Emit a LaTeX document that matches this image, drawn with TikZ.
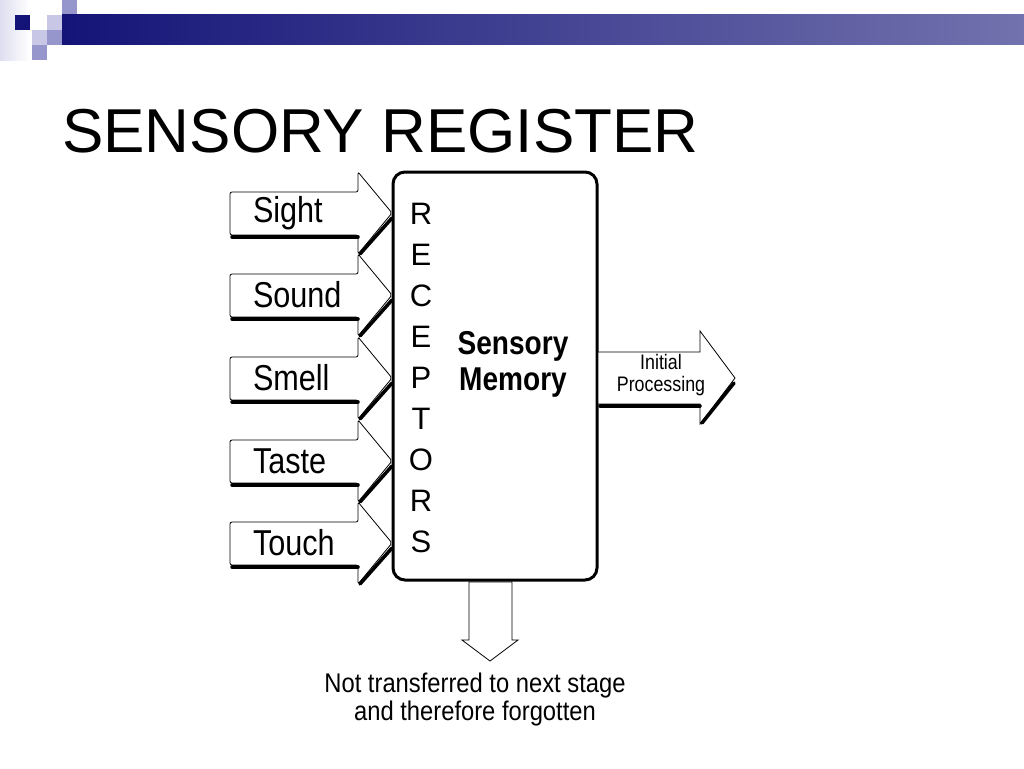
\documentclass[tikz,border=0pt]{standalone}
\usepackage{fontspec}
\setmainfont{Liberation Sans}
\definecolor{navy}{RGB}{20,20,120}
\definecolor{lav}{RGB}{200,200,230}
\definecolor{midlav}{RGB}{150,150,205}
\tikzset{
  inarrow/.style={draw=black, fill=white, line width=0.8pt},
  shadowline/.style={line width=3.5pt, line cap=round},
  sense/.style={font=\fontsize{36}{40}\selectfont, xscale=0.85},
}
\begin{document}
\begin{tikzpicture}[x=1pt,y=-1pt]
  \useasboundingbox (0,0) rectangle (1024,768);
  % header decoration
  \shade[left color=lav!60, right color=white] (0,0) rectangle (30,60);
  \fill[navy] (15,15) rectangle (30,30);
  \fill[lav] (47,15) rectangle (62,30);
  \fill[midlav] (62,0) rectangle (77,15);
  \fill[midlav] (62,15) rectangle (77,30);
  \fill[lav] (32,30) rectangle (47,45);
  \fill[midlav] (47,30) rectangle (62,45);
  \fill[midlav] (32,45) rectangle (47,60);
  \shade[left color=navy, right color=navy!60!white] (62,15) rectangle (1024,45);
  \node[anchor=base west, font=\fontsize{62}{70}\selectfont, inner sep=0] (title) at (62,152) {SENSORY REGISTER};

  % main box
  \draw[line width=3pt, rounded corners=12pt] (393,172) rectangle (597,580);
  \node[font=\fontsize{31}{41}\selectfont, align=center, inner sep=0] (rec) at (421,378)
    {R\\E\\C\\E\\P\\T\\O\\R\\S};
  \node[font=\bfseries\fontsize{33}{36}\selectfont, xscale=0.85, align=center] (mem) at (513,364) {Sensory\\Memory};

  % input arrows
  \foreach \lab/\y/\n in {Sight/213/a, Sound/295/b, Smell/378/c, Taste/461/d, Touch/543/e}{
    \draw[inarrow, rounded corners=2pt] (230,\y-21) -- (358,\y-21) -- (358,\y-41) -- (392,\y)
      -- (358,\y+41) -- (358,\y+22) -- (230,\y+22) -- cycle;
    \draw[shadowline] (232,\y+24) -- (358,\y+24);
    \draw[shadowline] (360,\y+41) -- (392,\y+5);
    \node[sense, anchor=west] (\n) at (250,\y) {\lab};
  }

  % output arrow
  \draw[inarrow] (598,352) -- (700,352) -- (700,331) -- (735,378) -- (700,424)
    -- (700,404) -- (598,404) -- cycle;
  \draw[shadowline] (600,406) -- (700,406);
  \draw[shadowline] (702,423) -- (734,383);
  \node[font=\fontsize{21}{22}\selectfont, xscale=0.85, align=center] (proc) at (661,375) {Initial\\Processing};

  % forgotten arrow
  \draw[inarrow] (469,582) -- (512,582) -- (512,640) -- (518,640) -- (490,661)
    -- (462,640) -- (469,640) -- cycle;
  \node[font=\fontsize{27}{28}\selectfont, xscale=0.88, align=center] (lost) at (475,700)
    {Not transferred to next stage\\and therefore forgotten};
\end{tikzpicture}
\end{document}
